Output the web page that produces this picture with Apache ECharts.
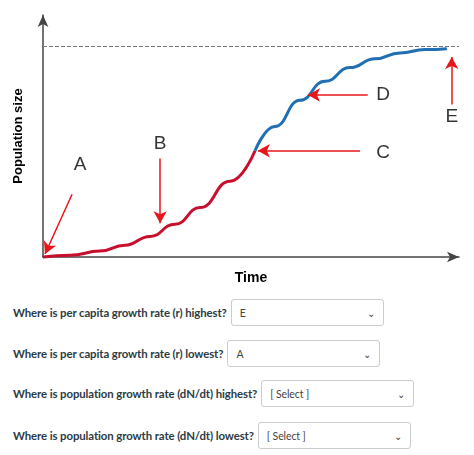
<!DOCTYPE html>
<html>
<head>
<meta charset="utf-8">
<script src="https://cdn.jsdelivr.net/npm/echarts@6/dist/echarts.min.js"></script>
<style>
body { margin: 0; background: #fff; font-family: Lato, sans-serif; }
#chart { width: 474px; height: 290px; }
.row { position: absolute; left: 13px; display: flex; align-items: center; font-size: 11.4px; font-weight: bold; color: #2d3b45; letter-spacing: -0.1px; }
.sel { margin-left: 4px; height: 27px; border: 1px solid #c7cdd1; border-radius: 3px; box-sizing: border-box; display: flex; align-items: center; justify-content: space-between; padding: 0 8px; font-weight: normal; font-size: 10.5px; color: #444; }
.sel span.c { font-size: 10px; }
</style>
</head>
<body>
<div id="chart"></div>
<div class="row" style="top:299px">Where is per capita growth rate (r) highest?<div class="sel" style="width:153px"><span>E</span><span class="c">&#8964;</span></div></div>
<div class="row" style="top:340px">Where is per capita growth rate (r) lowest?<div class="sel" style="width:153px"><span>A</span><span class="c">&#8964;</span></div></div>
<div class="row" style="top:380px">Where is population growth rate (dN/dt) highest?<div class="sel" style="width:153px"><span>[ Select ]</span><span class="c">&#8964;</span></div></div>
<div class="row" style="top:422px">Where is population growth rate (dN/dt) lowest?<div class="sel" style="width:153px"><span>[ Select ]</span><span class="c">&#8964;</span></div></div>
<script>
var redCurve = [[0,0],[6.7,0.8],[14.1,2.8],[20.3,5.6],[26.5,9.8],[32.7,15.6],[38.9,23.5],[46.3,36],[52.5,50.5]];
var blueCurve = [[52.5,50.5],[57.4,62],[63.6,74.5],[69.8,83.5],[76,90],[82.2,94.2],[88.4,97],[94.6,98.6],[100,99]];
var carryingCapacity = 100;
var labels = [['A',9.2,43.6],['B',29,54],['C',84.2,49.5],['D',84.2,77],['E',101.2,66.5]];
var arrows = [
    [[7.2,29.8],[0.5,1.4]],
    [[29,46.8],[29,16]],
    [[78.5,50.5],[53.2,50.5]],
    [[80.4,77],[65.6,77]],
    [[101.2,72.5],[101.2,95]]
];

(function () {
    var myChart = echarts.init(document.getElementById('chart'));
    var option = {
        animation: false,
        grid: { left: 43, right: 15, top: 15, bottom: 25 },
        xAxis: {
            type: 'value', min: 0, max: 103,
            name: 'Time', nameLocation: 'middle', nameGap: 14,
            nameTextStyle: { fontWeight: 'bold', fontSize: 14, color: '#000', fontFamily: 'Liberation Sans' },
            axisLine: { symbol: ['none', 'arrow'], symbolSize: [8, 12], lineStyle: { color: '#444', width: 1.5 } },
            axisTick: { show: false }, axisLabel: { show: false }, splitLine: { show: false }
        },
        yAxis: {
            type: 'value', min: 0, max: 115,
            name: 'Population size', nameLocation: 'middle', nameGap: 18,
            nameTextStyle: { fontWeight: 'bold', fontSize: 13, color: '#000', fontFamily: 'Liberation Sans' },
            axisLine: { show: true, symbol: ['none', 'arrow'], symbolSize: [8, 12], lineStyle: { color: '#444', width: 1.5 } },
            axisTick: { show: false }, axisLabel: { show: false }, splitLine: { show: false }
        },
        series: [
            {
                type: 'line', data: redCurve, smooth: 0.5, smoothMonotone: 'x', symbol: 'none', clip: false,
                lineStyle: { color: '#c8102e', width: 3 },
                markLine: {
                    silent: true, symbol: 'none', label: { show: false },
                    lineStyle: { color: '#777', type: 'dashed', width: 1 },
                    data: [{ yAxis: carryingCapacity }]
                }
            },
            {
                type: 'line', data: blueCurve, smooth: 0.5, smoothMonotone: 'x', symbol: 'none', clip: false,
                lineStyle: { color: '#1f6fb2', width: 3 },
                markLine: {
                    silent: true, symbol: ['none', 'arrow'], symbolSize: [10, 12], label: { show: false },
                    lineStyle: { color: '#e8161b', type: 'solid', width: 1.5 },
                    data: arrows.map(function (a) { return [{ coord: a[0] }, { coord: a[1] }]; })
                }
            },
            {
                type: 'scatter', symbolSize: 0, clip: false,
                data: labels.map(function (l) { return { name: l[0], value: [l[1], l[2]] }; }),
                label: { show: true, position: 'inside', formatter: '{b}', fontSize: 19, color: '#000', fontFamily: 'Liberation Sans' }
            }
        ]
    };
    myChart.setOption(option);
})();
</script>
</body>
</html>
